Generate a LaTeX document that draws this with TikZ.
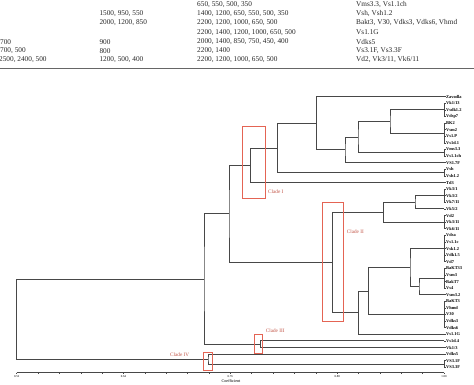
\documentclass[tikz,border=0pt]{standalone}
\usepackage{fontspec}
\setmainfont{Liberation Serif}
\usetikzlibrary{calc}
\definecolor{clred}{RGB}{228,100,84}

\begin{document}
\begin{tikzpicture}[x=1pt, y=-1pt,
		br/.style={draw=black!72, line width=0.9pt},
		brk/.style={draw=black!72, line width=0.5pt},
		clbox/.style={draw=clred, line width=0.6pt},
		cltxt/.style={text=clred!85!black, font=\fontsize{5.2}{6}\selectfont, inner sep=0pt, anchor=west},
		leaf/.style={font=\fontsize{4.4}{5}\selectfont\bfseries, inner sep=0pt, anchor=west},
		ticklab/.style={font=\fontsize{3}{3.5}\selectfont, inner sep=0pt},
		tab/.style={text=black!85, font=\fontsize{7.3}{8}\selectfont, inner sep=0pt, anchor=west}]
		\useasboundingbox (0,0) rectangle (474,384);
		\def\xe{444}\def\ya{96.7}\def\dy{6.6}
		\def\ca{0}\def\cb{99.3}\def\cc{197}\def\cd{356}
		% join two clusters at level #2
		\def\clmerge#1#2#3#4{%
			\path let \p1=($(#3)!0.5!(#4)$) in coordinate (#1) at (#2pt,\y1);
			\draw[br] (#3) -| (#1) |- (#4);}
		% table rows above the tree
		\node[tab] (r1c) at (\cc,5) {650, 550, 500, 350};
		\node[tab] (r1d) at (\cd,5) {Vms3.3, Vs1.1ch};
		\node[tab] (r2b) at (\cb,14) {1500, 950, 550};
		\node[tab] (r2c) at (\cc,14) {1400, 1200, 650, 550, 500, 350};
		\node[tab] (r2d) at (\cd,14) {Vsh, Vsh1.2};
		\node[tab] (r3b) at (\cb,22.7) {2000, 1200, 850};
		\node[tab] (r3c) at (\cc,22.7) {2200, 1200, 1000, 650, 500};
		\node[tab] (r3d) at (\cd,22.7) {Bakt3, V30, Vdks3, Vdks6, Vhmd};
		\node[tab] (r4c) at (\cc,32.3) {2200, 1400, 1200, 1000, 650, 500};
		\node[tab] (r4d) at (\cd,32.3) {Vs1.1G};
		\node[tab] (r5a) at (\ca,41.7) {700};
		\node[tab] (r5b) at (\cb,41.7) {900};
		\node[tab] (r5c) at (\cc,41.7) {2000, 1400, 850, 750, 450, 400};
		\node[tab] (r5d) at (\cd,41.7) {Vdks5};
		\node[tab] (r6a) at (\ca,50.7) {700, 500};
		\node[tab] (r6b) at (\cb,50.7) {800};
		\node[tab] (r6c) at (\cc,50.7) {2200, 1400};
		\node[tab] (r6d) at (\cd,50.7) {Vs3.1F, Vs3.3F};
		\node[tab] (r7a) at (-1,60) {2500, 2400, 500};
		\node[tab] (r7b) at (\cb,60) {1200, 500, 400};
		\node[tab] (r7c) at (\cc,60) {2200, 1200, 1000, 650, 500};
		\node[tab] (r7d) at (\cd,60) {Vd2, Vk3/11, Vk6/11};
		\draw[black!60, line width=1.3pt] (0,68.3) -- (474,68.3);
		% leaves
		\foreach \lab [count=\i] in {Zavodla, Vk1/13, Vsdk1.2, Vdsp7, BK2, Vsm2, Vs1.P, Vs1d.1,
			Vms3.3, Vs1.1ch, VS1.7F, Vsh, Vsh1.2, Td3, Vk3/1, Vk3/2, Vk7/11, Vk5/2, Vd2, Vk3/11,
			Vk6/11, Vdsa, Vs1.1c, Vsk1.2, Vdk1.5, Vd7, BaKT33, Vsm3, BakT7, Vs4, Vsm3.2, BaKT3,
			Vhmd, V30, Vdks3, Vdks6, Vs1.1G, Vs1d.4, Vk1/3, Vdks5, VS3.1F, VS3.3F} {
			\coordinate (e\i) at (\xe, {\ya+(\i-1)*\dy});
			\node[leaf] (l\i) at (\xe+2, {\ya+(\i-1)*\dy}) {\lab};
			\draw[brk] (e\i) -- (l\i.west);
		}
		% identical groups, joined at 1.00
		\foreach \a/\b [count=\k] in {1/1,2/4,5/8,9/10,11/11,12/13,14/14,15/17,18/18,19/21,
			22/26,27/30,31/31,32/36,37/37,38/38,39/39,40/40,41/42} {
			\coordinate (g\k) at ($(e\a)!0.5!(e\b)$);
			\draw[brk] (e\a) -- (e\b);
		}
		% clade I side
		\clmerge{W}{390}{g2}{g3}
		\clmerge{V}{358}{W}{g4}
		\clmerge{U}{345}{V}{g5}
		\clmerge{T}{316.7}{g1}{U}
		\clmerge{D}{277.7}{T}{g6}
		\clmerge{C}{250.7}{D}{g7}
		% clade II side
		\clmerge{G}{415}{g8}{g9}
		\clmerge{F}{383.3}{G}{g10}
		\clmerge{J}{419}{g12}{g13}
		\clmerge{H}{410}{g11}{J}
		\clmerge{I}{368.3}{H}{g14}
		\clmerge{K}{358.3}{I}{g15}
		\clmerge{E}{332.3}{F}{K}
		\clmerge{B}{229}{C}{E}
		% clades III and IV, root
		\clmerge{P}{260.7}{g16}{g17}
		\clmerge{A}{204}{B}{P}
		\clmerge{Q}{208}{g18}{g19}
		\clmerge{R}{16.7}{A}{Q}
		% clade boxes
		\draw[clbox] (242.3,126.7) rectangle (265.7,198.3);
		\node[cltxt] (cl1) at (268,191.7) {Clade I};
		\draw[clbox] (322.3,202.3) rectangle (343.3,321);
		\node[cltxt] (cl2) at (346.7,231.7) {Clade II};
		\draw[clbox] (254.3,334) rectangle (262.7,353.3);
		\node[cltxt] (cl3) at (265.7,330.7) {Clade III};
		\draw[clbox] (203.7,352.3) rectangle (212.3,370);
		\node[cltxt] (cl4) at (170,355) {Clade IV};
		% coefficient axis
		\coordinate (ax0) at (16.7,372.7);
		\coordinate (ax1) at (\xe,372.7);
		\draw[brk] (ax0) -- (ax1);
		\foreach \k in {0,...,20} \draw[brk] ($(ax0)!\k/20!(ax1)$) -- ++(0,1.5);
		\foreach \k/\v in {0/0.52,5/0.64,10/0.76,15/0.88,20/1.00}
			\node[ticklab] (t\k) at ($(ax0)!\k/20!(ax1)+(0,4.3)$) {\v};
		\node[font=\fontsize{4.2}{5}\selectfont, inner sep=0pt] (coef) at (231,381.3) {Coefficient};
	\end{tikzpicture}
\end{document}
